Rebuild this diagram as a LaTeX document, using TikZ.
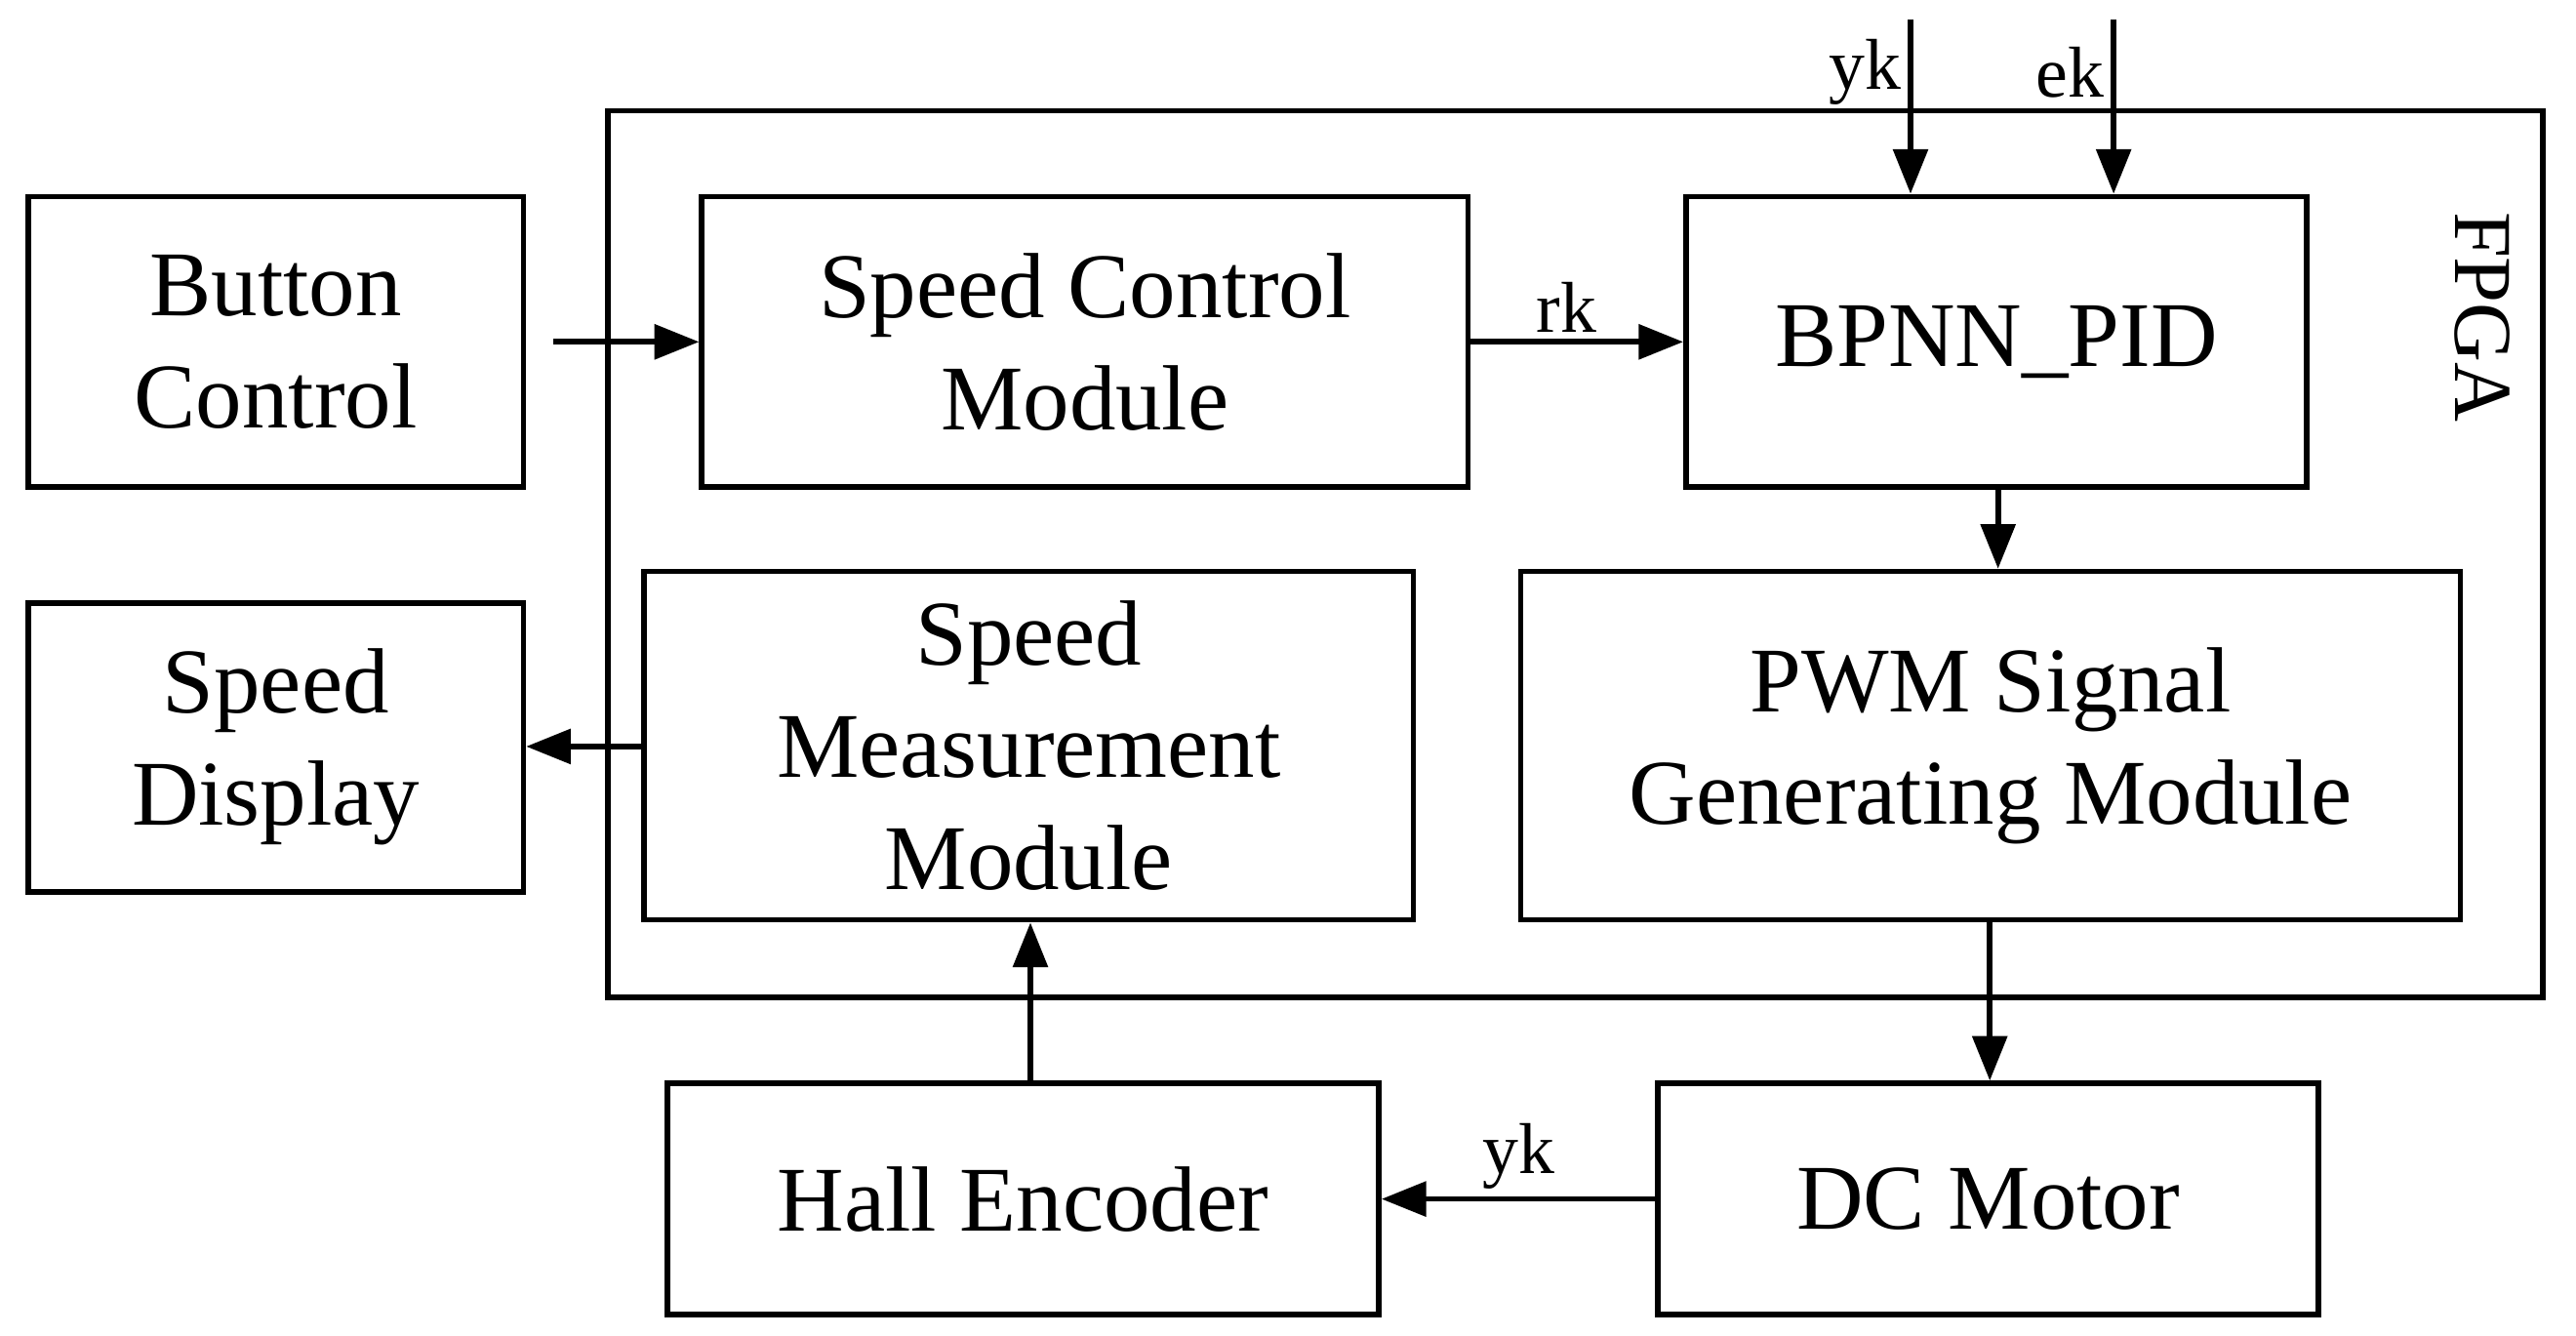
\documentclass[tikz,border=0pt]{standalone}
\usepackage{fontspec}
\setmainfont{Liberation Serif}
\usetikzlibrary{arrows.meta}
\begin{document}
\begin{tikzpicture}[x=0.01692cm,y=-0.01692cm,
  box/.style={draw,line width=1.6pt,align=center,inner sep=0pt,
    font=\fontsize{27}{32.7}\selectfont},
  arr/.style={-{Triangle[length=13pt,width=10pt]},line width=1.6pt},
  lab/.style={font=\fontsize{21}{24}\selectfont,inner sep=2pt}]
\useasboundingbox (0,0) rectangle (1560,808.4);
\draw[line width=1.6pt] (368,67) rectangle (1540,604);
\node[rotate=-90,font=\fontsize{24}{28}\selectfont] (fpga) at (1503,192) {FPGA};
\newcommand\blk[6]{\node[box,minimum width=(#4-#2)*0.01692cm,minimum height=(#5-#3)*0.01692cm] (#1) at ({(#2+#4)/2},{(#3+#5)/2}) {#6};}
\blk{btn}{17}{119}{317}{295}{Button\\Control}
\blk{scm}{425}{119}{889}{295}{Speed Control\\Module}
\blk{pid}{1021}{119}{1397}{295}{BPNN\_PID}
\blk{disp}{17}{365}{317}{540}{Speed\\Display}
\blk{smm}{390}{346}{856}{557}{Speed\\Measurement\\Module}
\blk{pwm}{921}{346}{1490}{557}{PWM Signal\\Generating Module}
\blk{hall}{404}{656}{835}{796}{Hall Encoder}
\blk{dc}{1004}{656}{1404}{796}{DC Motor}
\coordinate (y0) at (1157,12);
\coordinate (e0) at (1280,12);
\draw[arr] ([xshift=8pt]btn.east) -- (scm.west);
\draw[arr] (scm.east) -- node[lab,above,pos=0.45]{rk} (pid.west);
\draw[arr] (y0) -- node[lab,left,pos=0.3]{yk} (y0|-pid.north);
\draw[arr] (e0) -- node[lab,left,pos=0.3]{ek} (e0|-pid.north);
\draw[arr] (pid.south-|1210,0) -- (pwm.north-|1210,0);
\draw[arr] (smm.west|-0,452) -- (disp.east|-0,452);
\draw[arr] (pwm.south-|1205,0) -- (dc.north-|1205,0);
\draw[arr] (dc.west|-0,726) -- node[lab,above]{yk} (hall.east|-0,726);
\draw[arr] (hall.north-|624,0) -- (smm.south-|624,0);
\end{tikzpicture}
\end{document}
